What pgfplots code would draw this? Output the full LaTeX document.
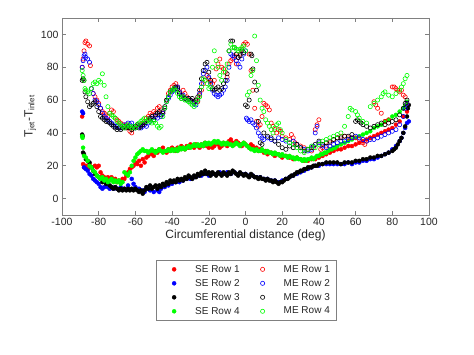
\documentclass[border=0pt]{standalone}
\usepackage{pgfplots}
\pgfplotsset{compat=1.18}
\usepackage{fontspec}
\setmainfont{Liberation Sans}
\definecolor{axgray}{RGB}{128,128,128}
\definecolor{txt}{RGB}{38,38,38}
\definecolor{mgreen}{RGB}{0,255,0}
\begin{document}
\begin{tikzpicture}
\path[use as bounding box] (-62pt,-140pt) rectangle (412pt,215pt);
\begin{axis}[
  scale only axis, width=367pt, height=197pt,
  xmin=-100, xmax=100, ymin=-10, ymax=110,
  xtick={-100,-80,...,100}, ytick={0,20,...,100},
  tick align=inside, major tick length=4pt,
  axis line style={axgray, line width=0.6pt},
  tick style={axgray, line width=0.6pt},
  /pgf/number format/assume math mode=true,
  ticklabel style={font=\fontsize{10.5}{12}\selectfont, text=txt},
  label style={font=\fontsize{12}{14}\selectfont, text=txt},
  xlabel={Circumferential distance (deg)},
  ylabel={T\textsubscript{jet}-T\textsubscript{inlet}},
  xlabel style={yshift=3pt},
  ylabel style={yshift=-2pt},
  legend columns=4, transpose legend,
  legend image code/.code={\path[draw=none,fill=none] (-14pt,-2pt) (2pt,2pt); \draw[#1] plot coordinates {(0pt,0pt)};},
  legend style={at={(axis description cs:0.256,-0.228)}, anchor=north west,
    draw=axgray, font=\fontsize{10}{12}\selectfont, text=txt,
    inner xsep=4pt, inner ysep=3pt, row sep=1.5pt,
    /tikz/every odd column/.style={column sep=17pt},
    /tikz/column 2/.style={column sep=7pt}},
  legend cell align=left,
]
\addplot[only marks, mark=*, mark size=2pt, mark options={fill=red, draw=red}] coordinates {
(-89,50)(-88.5,21)(-88,19)(-87,20)(-86,18)(-85,21)(-84,19)(-83,17)(-82,20)(-81,19)(-80,20)(-79,16)(-78,14)(-77,13)(-76,12)(-75,13)(-74,12)(-73,13)(-72,11)(-71,12)(-70,10)(-69,11)(-68,10)(-67,12)(-66,12)(-65,14)(-64,16)(-63,18)(-62,19)(-61,20)(-60,22)(-59,21)(-58,23)(-57,20)(-56,24)(-55,22)(-54,25)(-53,26)(-52,28)(-51,27)(-50,26)(-49,29)(-48,28)(-47,30)(-46,29)(-45,31)(-44,29)(-43,28)(-42,30)(-41,29)(-40,31)(-39,30)(-38,29)(-37,31)(-36,30)(-35,32)(-34,31)(-33,30)(-32,32)(-31,31)(-30,33)(-29,32)(-28,31)(-27,33)(-26,32)(-25,31)(-24,33)(-23,32)(-22,34)(-21,32)(-20,31)(-19,33)(-18,31)(-17,32)(-16,34)(-15,33)(-14,31)(-13,32)(-12,34)(-11,33)(-10,32)(-9,35)(-8,36)(-7,34)(-6,33)(-5,35)(-4,34)(-3,33)(-2,32)(-1,34)(0,33)(1,32)(2,31)(3,33)(4,32)(5,30)(6,31)(7,29)(8,30)(9,29)(10,28)(11,29)(12,27)(13,28)(14,28)(15,27)(16,26)(17,27)(18,27)(19,26)(20,25)(22,26)(24,25)(26,24)(28,25)(30,24)(32,23)(34,23)(36,24)(38,24)(40,25)(42,26)(44,27)(46,28)(48,29)(50,30)(52,30)(54,31)(56,32)(58,32)(60,33)(62,34)(64,35)(66,36)(68,37)(70,38)(72,39)(74,40)(76,41)(78,42)(80,43)(82,45)(84,47)(86,50)(88,53)
};
\addlegendentry{SE Row 1}
\addplot[only marks, mark=*, mark size=2pt, mark options={fill=blue, draw=blue}] coordinates {
(-89,53)(-88.5,52)(-88,19)(-87,18)(-86,17)(-85,15)(-84,14)(-83,12)(-82,11)(-81,10)(-80,9)(-79,7)(-78,6)(-77,7)(-76,8)(-75,7)(-74,6)(-73,7)(-72,6)(-71,7)(-70,6)(-68,7)(-66,6)(-64,8)(-62,12)(-61,9)(-60,7)(-58,6)(-56,5)(-55,4)(-54,6)(-52,5)(-50,4)(-48,5)(-47,4)(-46,6)(-44,7)(-42,8)(-40,9)(-38,10)(-36,10)(-34,11)(-32,12)(-30,12)(-28,13)(-26,14)(-24,14)(-22,15)(-20,14)(-18,15)(-16,15)(-14,16)(-12,15)(-10,16)(-8,15)(-6,16)(-4,15)(-2,15)(0,15)(2,14)(4,14)(6,13)(8,13)(10,12)(12,12)(14,11)(16,11)(18,10)(20,11)(22,12)(24,13)(26,14)(28,15)(30,16)(32,17)(34,18)(36,19)(38,20)(40,20)(42,21)(44,21)(46,21)(48,21)(50,21)(52,21)(54,21)(56,22)(58,21)(60,22)(62,22)(64,23)(66,23)(68,24)(70,24)(72,25)(74,26)(76,27)(78,28)(80,30)(82,32)(84,35)(85,37)(86,40)(87,43)(88,46)(89,47)
};
\addlegendentry{SE Row 2}
\addplot[only marks, mark=*, mark size=2pt, mark options={fill=black, draw=black}] coordinates {
(-89,39)(-88.8,38)(-88.5,28)(-88,27)(-87,24)(-86,23)(-85,22)(-84,19)(-83,17)(-82,15)(-81,14)(-80,13)(-79,12)(-78,10)(-77,11)(-76,9)(-75,10)(-74,8)(-73,7)(-72,6)(-71,7)(-70,6)(-69,5)(-68,6)(-67,5)(-66,6)(-65,5)(-64,6)(-63,5)(-62,6)(-61,5)(-60,6)(-59,5)(-58,4)(-57,5)(-56,3)(-55,5)(-54,7)(-53,6)(-52,8)(-51,6)(-50,7)(-49,8)(-48,6)(-47,8)(-46,7)(-45,9)(-44,8)(-43,10)(-42,9)(-41,11)(-40,10)(-39,11)(-38,10)(-37,12)(-36,11)(-35,12)(-34,11)(-33,13)(-32,12)(-31,14)(-30,13)(-29,12)(-28,14)(-27,13)(-26,15)(-25,14)(-24,16)(-23,15)(-22,17)(-21,15)(-20,16)(-19,14)(-18,16)(-17,15)(-16,14)(-15,16)(-14,15)(-13,14)(-12,16)(-11,15)(-10,14)(-9,16)(-8,15)(-7,17)(-6,16)(-5,15)(-4,14)(-3,16)(-2,15)(-1,14)(0,15)(1,14)(2,13)(3,15)(4,14)(5,13)(6,13)(7,12)(8,13)(9,12)(10,12)(11,11)(12,12)(13,11)(14,11)(15,10)(16,11)(17,10)(18,9)(19,10)(20,10)(21,11)(22,12)(23,12)(24,13)(25,14)(26,14)(27,15)(28,16)(29,16)(30,17)(31,17)(32,18)(33,18)(34,19)(35,19)(36,19)(37,20)(38,20)(39,20)(40,21)(42,21)(44,22)(46,22)(48,22)(50,22)(52,21)(54,22)(56,22)(58,22)(60,23)(62,23)(64,24)(66,24)(68,25)(70,25)(72,26)(74,26)(76,27)(78,28)(80,29)(81,30)(82,31)(83,33)(84,35)(85,37)(86,40)(87,44)(88,50)(88.5,55)(89,57)
};
\addlegendentry{SE Row 3}
\addplot[only marks, mark=*, mark size=2pt, mark options={fill=mgreen, draw=mgreen}] coordinates {
(-89,38)(-88.8,37)(-88.5,31)(-88,26)(-87,25)(-86,23)(-85,20)(-84,19)(-83,17)(-82,16)(-81,14)(-80,13)(-79,12)(-78,13)(-77,11)(-76,12)(-75,10)(-74,11)(-73,12)(-72,10)(-71,11)(-70,10)(-69,11)(-68,9)(-67,10)(-66,16)(-65,15)(-64,14)(-63,16)(-62,20)(-61,23)(-60,25)(-59,27)(-58,28)(-57,29)(-56,30)(-55,29)(-54,29)(-53,28)(-52,29)(-51,30)(-50,29)(-49,28)(-48,29)(-47,30)(-46,29)(-45,28)(-44,29)(-43,29)(-42,30)(-41,29)(-40,30)(-39,29)(-38,30)(-37,29)(-36,31)(-35,30)(-34,31)(-33,30)(-32,31)(-31,32)(-30,31)(-29,32)(-28,33)(-27,32)(-26,33)(-25,32)(-24,33)(-23,32)(-22,34)(-21,33)(-20,34)(-19,33)(-18,34)(-17,35)(-16,34)(-15,35)(-14,34)(-13,33)(-12,34)(-11,33)(-10,34)(-9,33)(-8,33)(-7,32)(-6,33)(-5,34)(-4,33)(-3,32)(-2,33)(-1,34)(0,33)(1,32)(2,31)(3,30)(4,30)(5,29)(6,30)(7,29)(8,29)(9,30)(10,29)(11,28)(12,29)(13,28)(14,28)(15,27)(16,28)(17,27)(18,27)(19,26)(20,27)(21,26)(22,26)(23,25)(24,26)(25,25)(26,25)(27,24)(28,25)(29,24)(30,24)(31,23)(32,24)(33,23)(34,24)(35,24)(36,25)(37,24)(38,25)(39,26)(40,26)(41,27)(42,27)(43,28)(44,28)(45,29)(46,30)(47,30)(48,31)(49,31)(50,32)(52,33)(54,34)(56,35)(58,36)(60,37)(62,38)(64,39)(66,40)(68,41)(70,43)(72,44)(74,45)(76,47)(78,48)(80,50)(82,51)(84,53)(86,55)(87,57)(88,59)
};
\addlegendentry{SE Row 4}
\addplot[only marks, mark=o, mark size=2.1pt, mark options={draw=red, line width=0.6pt}] coordinates {
(-89,80)(-88.5,85)(-88,90)(-87.5,95)(-87,96)(-86,94)(-85,93)(-84.5,81)(-84,67)(-83,64)(-82,62)(-81,60)(-80,58)(-79,55)(-78,53)(-77,52)(-76,51)(-75,50)(-74,52)(-73,54)(-72,53)(-71,49)(-70,48)(-69,47)(-68,46)(-67,45)(-66,44)(-65,45)(-64,43)(-63,41)(-62,40)(-61,43)(-60,44)(-59,45)(-58,44)(-57,45)(-56,46)(-55,47)(-54,49)(-53,50)(-52,52)(-51,51)(-50,53)(-49,52)(-48,55)(-47,56)(-46,54)(-45,52)(-44,55)(-43,60)(-42,64)(-41,66)(-40,68)(-39,69)(-38,70)(-37,68)(-36,65)(-35,63)(-34,66)(-33,64)(-32,62)(-31,61)(-30,60)(-29,59)(-28,58)(-27,60)(-26,59)(-25,63)(-24,66)(-23,70)(-22,72)(-21,75)(-20,73)(-19,71)(-18,70)(-17,72)(-16,79)(-15,82)(-14,85)(-13,80)(-12,79)(-11,77)(-10,74)(-9,82)(-8,84)(-7,85)(-6,87)(-5,82)(-4,86)(-3,88)(-2,91)(-1,94)(0,95)(1,94)(2,88)(3,78)(4,66)(5,55)(6,47)(7,44)(8,45)(9,50)(10,58)(11,57)(12,56)(13,54)(14,46)(15,44)(16,42)(17,40)(18,42)(19,41)(20,38)(22,37)(24,36)(25,39)(26,37)(27,34)(28,33)(30,32)(32,31)(34,30)(36,29)(37,31)(38,42)(39,45)(40,48)(41,30)(42,31)(44,32)(46,34)(48,36)(50,37)(52,38)(54,38)(56,37)(58,37)(60,37)(62,36)(64,34)(65,33)(66,35)(68,37)(70,59)(71,57)(72,55)(74,52)(76,47)(78,48)(80,68)(81,68)(82,67)(83,66)(84,65)(85,66)(86,63)(87,62)(88,58)
};
\addlegendentry{ME Row 1}
\addplot[only marks, mark=o, mark size=2.1pt, mark options={draw=blue, line width=0.6pt}] coordinates {
(-89,80)(-88.5,84)(-88,87)(-87.5,88)(-87,86)(-86,85)(-85,83)(-84,67)(-83,64)(-82,60)(-81,59)(-80,57)(-79,55)(-78,52)(-77,50)(-76,49)(-75,48)(-74,47)(-73,46)(-72,45)(-71,44)(-70,44)(-69,43)(-68,43)(-67,44)(-66,45)(-65,44)(-64,46)(-63,45)(-62,46)(-61,44)(-60,43)(-59,45)(-58,44)(-57,43)(-56,44)(-55,45)(-54,44)(-53,46)(-52,47)(-51,49)(-50,48)(-49,50)(-48,49)(-47,51)(-46,50)(-45,52)(-44,55)(-43,59)(-42,61)(-41,63)(-40,65)(-39,66)(-38,67)(-37,68)(-36,65)(-35,62)(-34,63)(-33,61)(-32,60)(-31,61)(-30,60)(-29,59)(-28,58)(-27,57)(-26,60)(-25,64)(-24,70)(-23,76)(-22,78)(-21,80)(-20,74)(-19,70)(-18,66)(-17,64)(-16,63)(-15,62)(-14,63)(-13,64)(-12,66)(-11,68)(-10,72)(-9,80)(-8,88)(-7,87)(-6,86)(-5,84)(-4,82)(-3,80)(-2,85)(-1,88)(0,90)(0.5,49)(1,48)(2,47)(3,48)(4,46)(5,45)(6,43)(7,40)(8,38)(9,37)(10,36)(12,37)(14,36)(16,35)(18,37)(20,36)(22,35)(24,34)(26,35)(28,33)(30,31)(32,30)(34,29)(36,30)(37,32)(38,40)(39,44)(40,34)(42,32)(44,31)(46,32)(48,33)(50,34)(52,35)(54,35)(56,36)(58,37)(60,38)(62,37)(64,36)(66,35)(68,36)(70,36)(72,37)(74,38)(76,39)(78,40)(80,41)(82,42)(84,45)(86,50)(87,55)(88,58)
};
\addlegendentry{ME Row 2}
\addplot[only marks, mark=o, mark size=2.1pt, mark options={draw=black, line width=0.6pt}] coordinates {
(-89,72)(-88.5,73)(-88,72)(-87.5,65)(-87,62)(-86,59)(-85,56)(-84,57)(-83,58)(-82,59)(-81,56)(-80,53)(-79,50)(-78,49)(-77,48)(-76,47)(-75,47)(-74,46)(-73,45)(-72,44)(-71,43)(-70,42)(-69,43)(-68,42)(-67,43)(-66,44)(-65,43)(-64,44)(-63,43)(-62,42)(-61,43)(-60,44)(-59,45)(-58,43)(-57,44)(-56,45)(-55,46)(-54,47)(-53,48)(-52,49)(-51,50)(-50,48)(-49,51)(-48,52)(-47,53)(-46,51)(-45,53)(-44,56)(-43,60)(-42,62)(-41,65)(-40,66)(-39,67)(-38,68)(-37,67)(-36,64)(-35,61)(-34,62)(-33,61)(-32,60)(-31,61)(-30,60)(-29,61)(-28,59)(-27,60)(-26,62)(-25,66)(-24,73)(-23,78)(-22,82)(-21,83)(-20,77)(-19,72)(-18,67)(-17,66)(-16,67)(-15,68)(-14,66)(-13,67)(-12,70)(-11,72)(-10,76)(-9,90)(-8,96)(-7,96)(-6,92)(-5,88)(-4,86)(-3,87)(-2,90)(-1,89)(0,57)(1,56)(2,60)(3,88)(3.5,87)(4,79)(5,71)(6,66)(7,47)(8,34)(9,33)(10,40)(12,38)(14,37)(16,35)(18,33)(20,31)(22,30)(24,32)(26,31)(28,33)(30,31)(32,29)(34,30)(36,31)(38,33)(40,35)(42,33)(44,34)(46,35)(48,36)(50,37)(52,37)(54,38)(56,38)(58,39)(60,47)(61,48)(62,47)(63,46)(64,45)(66,44)(68,43)(70,44)(72,45)(74,46)(76,45)(78,46)(80,47)(82,48)(84,51)(86,55)(87,58)(88,60)
};
\addlegendentry{ME Row 3}
\addplot[only marks, mark=o, mark size=2.1pt, mark options={draw=mgreen, line width=0.6pt}] coordinates {
(-89,78)(-88.5,75)(-88,72)(-87.5,67)(-87,66)(-86,65)(-85,64)(-84,67)(-83,70)(-82,71)(-81,70)(-80,72)(-79,71)(-78,76)(-77,69)(-76,62)(-75,56)(-74,52)(-73,51)(-72,50)(-71,49)(-70,47)(-69,46)(-68,45)(-67,44)(-66,43)(-65,44)(-64,45)(-63,44)(-62,43)(-61,44)(-60,43)(-59,45)(-58,46)(-57,47)(-56,48)(-55,49)(-54,47)(-53,48)(-52,47)(-51,46)(-50,47)(-49,46)(-48,44)(-47,43)(-46,44)(-45,50)(-44,55)(-43,59)(-42,62)(-41,65)(-40,66)(-39,67)(-38,66)(-37,64)(-36,62)(-35,61)(-34,62)(-33,60)(-32,60)(-31,59)(-30,58)(-29,57)(-28,56)(-27,58)(-26,60)(-25,62)(-24,68)(-23,73)(-22,72)(-21,70)(-20,67)(-19,68)(-18,80)(-17,90)(-16,84)(-15,80)(-14,75)(-13,72)(-12,77)(-11,79)(-10,82)(-9,90)(-8,94)(-7,92)(-6,92)(-5,91)(-4,90)(-3,91)(-2,92)(-1,93)(0,90)(1,63)(2,65)(3,75)(4,78)(5,99)(6,84)(7,69)(8,60)(9,55)(10,53)(11,48)(12,46)(13,44)(14,42)(15,40)(16,43)(17,45)(18,46)(19,42)(20,40)(22,36)(24,34)(26,33)(28,31)(30,29)(32,28)(34,30)(36,32)(38,31)(40,33)(42,35)(44,36)(46,37)(48,38)(50,39)(52,40)(54,44)(56,50)(57,55)(58,54)(60,53)(61,51)(62,49)(64,47)(66,46)(68,56)(70,58)(72,60)(74,62)(75,64)(76,65)(78,63)(80,62)(82,64)(84,66)(85,68)(86,70)(87,73)(88,75)
};
\addlegendentry{ME Row 4}
\end{axis}
\end{tikzpicture}
\end{document}
